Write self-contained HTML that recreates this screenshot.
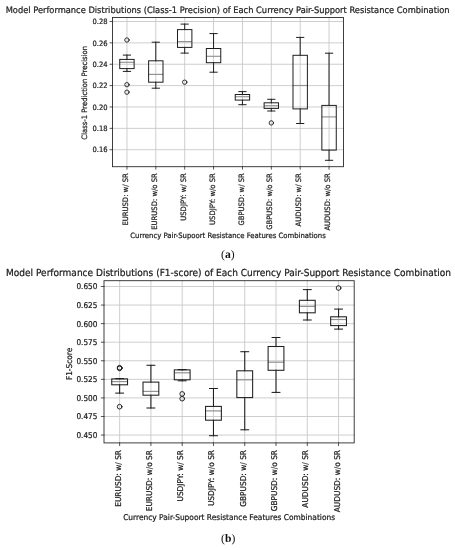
<!DOCTYPE html>
<html lang="en"><head><meta charset="utf-8"><title>Model Performance Distributions</title>
<style>html,body{margin:0;padding:0;background:#fff}svg{display:block}text{stroke:#1c1c1c;stroke-width:0.22px;stroke-linejoin:round}text.cap{stroke:none}</style></head><body>
<svg width="455" height="550" viewBox="0 0 455 550" font-family="'DejaVu Sans', 'Liberation Sans', sans-serif" fill="#1c1c1c" text-rendering="geometricPrecision" stroke-linecap="square">
<rect width="455" height="550" fill="#fff"/>
<line x1="112.5" y1="21.5" x2="343.5" y2="21.5" stroke="#c8c8c8" stroke-width="0.9"/>
<line x1="112.5" y1="42.87" x2="343.5" y2="42.87" stroke="#c8c8c8" stroke-width="0.9"/>
<line x1="112.5" y1="64.24" x2="343.5" y2="64.24" stroke="#c8c8c8" stroke-width="0.9"/>
<line x1="112.5" y1="85.61" x2="343.5" y2="85.61" stroke="#c8c8c8" stroke-width="0.9"/>
<line x1="112.5" y1="106.98" x2="343.5" y2="106.98" stroke="#c8c8c8" stroke-width="0.9"/>
<line x1="112.5" y1="128.35" x2="343.5" y2="128.35" stroke="#c8c8c8" stroke-width="0.9"/>
<line x1="112.5" y1="149.72" x2="343.5" y2="149.72" stroke="#c8c8c8" stroke-width="0.9"/>
<line x1="126.94" y1="17.5" x2="126.94" y2="166.7" stroke="#c8c8c8" stroke-width="0.9"/>
<line x1="155.81" y1="17.5" x2="155.81" y2="166.7" stroke="#c8c8c8" stroke-width="0.9"/>
<line x1="184.69" y1="17.5" x2="184.69" y2="166.7" stroke="#c8c8c8" stroke-width="0.9"/>
<line x1="213.56" y1="17.5" x2="213.56" y2="166.7" stroke="#c8c8c8" stroke-width="0.9"/>
<line x1="242.44" y1="17.5" x2="242.44" y2="166.7" stroke="#c8c8c8" stroke-width="0.9"/>
<line x1="271.31" y1="17.5" x2="271.31" y2="166.7" stroke="#c8c8c8" stroke-width="0.9"/>
<line x1="300.19" y1="17.5" x2="300.19" y2="166.7" stroke="#c8c8c8" stroke-width="0.9"/>
<line x1="329.06" y1="17.5" x2="329.06" y2="166.7" stroke="#c8c8c8" stroke-width="0.9"/>
<line x1="126.94" y1="55.1" x2="126.94" y2="59.4" stroke="#1e1e1e" stroke-width="1.0"/>
<line x1="126.94" y1="68.6" x2="126.94" y2="71.4" stroke="#1e1e1e" stroke-width="1.0"/>
<line x1="123.34" y1="55.1" x2="130.54" y2="55.1" stroke="#1e1e1e" stroke-width="1.0"/>
<line x1="123.34" y1="71.4" x2="130.54" y2="71.4" stroke="#1e1e1e" stroke-width="1.0"/>
<line x1="119.74" y1="62.3" x2="134.14" y2="62.3" stroke="#929292" stroke-width="1.15" stroke-linecap="butt"/>
<rect x="119.74" y="59.4" width="14.4" height="9.199999999999996" fill="none" stroke="#1e1e1e" stroke-width="1.0"/>
<line x1="155.81" y1="42.2" x2="155.81" y2="60.8" stroke="#1e1e1e" stroke-width="1.0"/>
<line x1="155.81" y1="82.2" x2="155.81" y2="88.2" stroke="#1e1e1e" stroke-width="1.0"/>
<line x1="152.21" y1="42.2" x2="159.41" y2="42.2" stroke="#1e1e1e" stroke-width="1.0"/>
<line x1="152.21" y1="88.2" x2="159.41" y2="88.2" stroke="#1e1e1e" stroke-width="1.0"/>
<line x1="148.61" y1="74.4" x2="163.01" y2="74.4" stroke="#929292" stroke-width="1.15" stroke-linecap="butt"/>
<rect x="148.61" y="60.8" width="14.4" height="21.400000000000006" fill="none" stroke="#1e1e1e" stroke-width="1.0"/>
<line x1="184.69" y1="24.1" x2="184.69" y2="29.6" stroke="#1e1e1e" stroke-width="1.0"/>
<line x1="184.69" y1="47.4" x2="184.69" y2="53.1" stroke="#1e1e1e" stroke-width="1.0"/>
<line x1="181.09" y1="24.1" x2="188.29" y2="24.1" stroke="#1e1e1e" stroke-width="1.0"/>
<line x1="181.09" y1="53.1" x2="188.29" y2="53.1" stroke="#1e1e1e" stroke-width="1.0"/>
<line x1="177.49" y1="41.6" x2="191.89" y2="41.6" stroke="#929292" stroke-width="1.15" stroke-linecap="butt"/>
<rect x="177.49" y="29.6" width="14.4" height="17.799999999999997" fill="none" stroke="#1e1e1e" stroke-width="1.0"/>
<line x1="213.56" y1="33.6" x2="213.56" y2="48.5" stroke="#1e1e1e" stroke-width="1.0"/>
<line x1="213.56" y1="62.7" x2="213.56" y2="72.2" stroke="#1e1e1e" stroke-width="1.0"/>
<line x1="209.96" y1="33.6" x2="217.16" y2="33.6" stroke="#1e1e1e" stroke-width="1.0"/>
<line x1="209.96" y1="72.2" x2="217.16" y2="72.2" stroke="#1e1e1e" stroke-width="1.0"/>
<line x1="206.36" y1="56.3" x2="220.76" y2="56.3" stroke="#929292" stroke-width="1.15" stroke-linecap="butt"/>
<rect x="206.36" y="48.5" width="14.4" height="14.200000000000003" fill="none" stroke="#1e1e1e" stroke-width="1.0"/>
<line x1="242.44" y1="91.6" x2="242.44" y2="94.5" stroke="#1e1e1e" stroke-width="1.0"/>
<line x1="242.44" y1="100.1" x2="242.44" y2="104.7" stroke="#1e1e1e" stroke-width="1.0"/>
<line x1="238.84" y1="91.6" x2="246.04" y2="91.6" stroke="#1e1e1e" stroke-width="1.0"/>
<line x1="238.84" y1="104.7" x2="246.04" y2="104.7" stroke="#1e1e1e" stroke-width="1.0"/>
<line x1="235.24" y1="96.7" x2="249.64" y2="96.7" stroke="#929292" stroke-width="1.15" stroke-linecap="butt"/>
<rect x="235.24" y="94.5" width="14.4" height="5.599999999999994" fill="none" stroke="#1e1e1e" stroke-width="1.0"/>
<line x1="271.31" y1="99.3" x2="271.31" y2="102.8" stroke="#1e1e1e" stroke-width="1.0"/>
<line x1="271.31" y1="108.4" x2="271.31" y2="111.0" stroke="#1e1e1e" stroke-width="1.0"/>
<line x1="267.71" y1="99.3" x2="274.91" y2="99.3" stroke="#1e1e1e" stroke-width="1.0"/>
<line x1="267.71" y1="111.0" x2="274.91" y2="111.0" stroke="#1e1e1e" stroke-width="1.0"/>
<line x1="264.11" y1="105.7" x2="278.51" y2="105.7" stroke="#929292" stroke-width="1.15" stroke-linecap="butt"/>
<rect x="264.11" y="102.8" width="14.4" height="5.6000000000000085" fill="none" stroke="#1e1e1e" stroke-width="1.0"/>
<line x1="300.19" y1="37.4" x2="300.19" y2="55.3" stroke="#1e1e1e" stroke-width="1.0"/>
<line x1="300.19" y1="108.9" x2="300.19" y2="123.5" stroke="#1e1e1e" stroke-width="1.0"/>
<line x1="296.59" y1="37.4" x2="303.79" y2="37.4" stroke="#1e1e1e" stroke-width="1.0"/>
<line x1="296.59" y1="123.5" x2="303.79" y2="123.5" stroke="#1e1e1e" stroke-width="1.0"/>
<line x1="292.99" y1="85.5" x2="307.39" y2="85.5" stroke="#929292" stroke-width="1.15" stroke-linecap="butt"/>
<rect x="292.99" y="55.3" width="14.4" height="53.60000000000001" fill="none" stroke="#1e1e1e" stroke-width="1.0"/>
<line x1="329.06" y1="53.2" x2="329.06" y2="105.4" stroke="#1e1e1e" stroke-width="1.0"/>
<line x1="329.06" y1="150.1" x2="329.06" y2="160.3" stroke="#1e1e1e" stroke-width="1.0"/>
<line x1="325.46" y1="53.2" x2="332.66" y2="53.2" stroke="#1e1e1e" stroke-width="1.0"/>
<line x1="325.46" y1="160.3" x2="332.66" y2="160.3" stroke="#1e1e1e" stroke-width="1.0"/>
<line x1="321.86" y1="116.9" x2="336.26" y2="116.9" stroke="#929292" stroke-width="1.15" stroke-linecap="butt"/>
<rect x="321.86" y="105.4" width="14.4" height="44.69999999999999" fill="none" stroke="#1e1e1e" stroke-width="1.0"/>
<circle cx="126.94" cy="40.0" r="2.2" fill="none" stroke="#1e1e1e" stroke-width="0.90"/>
<circle cx="126.94" cy="84.7" r="2.2" fill="none" stroke="#1e1e1e" stroke-width="0.90"/>
<circle cx="126.94" cy="92.2" r="2.2" fill="none" stroke="#1e1e1e" stroke-width="0.90"/>
<circle cx="184.69" cy="82.2" r="2.2" fill="none" stroke="#1e1e1e" stroke-width="0.90"/>
<circle cx="271.31" cy="122.9" r="2.2" fill="none" stroke="#1e1e1e" stroke-width="0.90"/>
<line x1="110.1" y1="21.5" x2="112.5" y2="21.5" stroke="#2a2a2a" stroke-width="0.8"/>
<line x1="110.1" y1="42.87" x2="112.5" y2="42.87" stroke="#2a2a2a" stroke-width="0.8"/>
<line x1="110.1" y1="64.24" x2="112.5" y2="64.24" stroke="#2a2a2a" stroke-width="0.8"/>
<line x1="110.1" y1="85.61" x2="112.5" y2="85.61" stroke="#2a2a2a" stroke-width="0.8"/>
<line x1="110.1" y1="106.98" x2="112.5" y2="106.98" stroke="#2a2a2a" stroke-width="0.8"/>
<line x1="110.1" y1="128.35" x2="112.5" y2="128.35" stroke="#2a2a2a" stroke-width="0.8"/>
<line x1="110.1" y1="149.72" x2="112.5" y2="149.72" stroke="#2a2a2a" stroke-width="0.8"/>
<line x1="126.94" y1="166.7" x2="126.94" y2="169.1" stroke="#2a2a2a" stroke-width="0.8"/>
<line x1="155.81" y1="166.7" x2="155.81" y2="169.1" stroke="#2a2a2a" stroke-width="0.8"/>
<line x1="184.69" y1="166.7" x2="184.69" y2="169.1" stroke="#2a2a2a" stroke-width="0.8"/>
<line x1="213.56" y1="166.7" x2="213.56" y2="169.1" stroke="#2a2a2a" stroke-width="0.8"/>
<line x1="242.44" y1="166.7" x2="242.44" y2="169.1" stroke="#2a2a2a" stroke-width="0.8"/>
<line x1="271.31" y1="166.7" x2="271.31" y2="169.1" stroke="#2a2a2a" stroke-width="0.8"/>
<line x1="300.19" y1="166.7" x2="300.19" y2="169.1" stroke="#2a2a2a" stroke-width="0.8"/>
<line x1="329.06" y1="166.7" x2="329.06" y2="169.1" stroke="#2a2a2a" stroke-width="0.8"/>
<rect x="112.5" y="17.5" width="231.0" height="149.2" fill="none" stroke="#2a2a2a" stroke-width="0.9"/>
<text transform="translate(107.6,24.18) scale(0.985,1.07)" font-size="6.88" text-anchor="end">0.28</text>
<text transform="translate(107.6,45.55) scale(0.985,1.07)" font-size="6.88" text-anchor="end">0.26</text>
<text transform="translate(107.6,66.92) scale(0.985,1.07)" font-size="6.88" text-anchor="end">0.24</text>
<text transform="translate(107.6,88.29) scale(0.985,1.07)" font-size="6.88" text-anchor="end">0.22</text>
<text transform="translate(107.6,109.66) scale(0.985,1.07)" font-size="6.88" text-anchor="end">0.20</text>
<text transform="translate(107.6,131.03) scale(0.985,1.07)" font-size="6.88" text-anchor="end">0.18</text>
<text transform="translate(107.6,152.40) scale(0.985,1.07)" font-size="6.88" text-anchor="end">0.16</text>
<text transform="translate(128.04,173.2) rotate(-90) scale(0.995,1.08)" font-size="6.88" text-anchor="end">EURUSD: w/ SR</text>
<text transform="translate(156.91,173.2) rotate(-90) scale(0.995,1.08)" font-size="6.88" text-anchor="end">EURUSD: w/o SR</text>
<text transform="translate(185.79,173.2) rotate(-90) scale(0.995,1.08)" font-size="6.88" text-anchor="end">USDJPY: w/ SR</text>
<text transform="translate(214.66,173.2) rotate(-90) scale(0.995,1.08)" font-size="6.88" text-anchor="end">USDJPY: w/o SR</text>
<text transform="translate(243.54,173.2) rotate(-90) scale(0.995,1.08)" font-size="6.88" text-anchor="end">GBPUSD: w/ SR</text>
<text transform="translate(272.41,173.2) rotate(-90) scale(0.995,1.08)" font-size="6.88" text-anchor="end">GBPUSD: w/o SR</text>
<text transform="translate(301.29,173.2) rotate(-90) scale(0.995,1.08)" font-size="6.88" text-anchor="end">AUDUSD: w/ SR</text>
<text transform="translate(330.16,173.2) rotate(-90) scale(0.995,1.08)" font-size="6.88" text-anchor="end">AUDUSD: w/o SR</text>
<text transform="translate(227.6,13.0) scale(1,1.07)" font-size="8.31" text-anchor="middle">Model Performance Distributions (Class-1 Precision) of Each Currency Pair-Support Resistance Combination</text>
<text transform="translate(228.0,238.2) scale(1,1.07)" font-size="6.88" text-anchor="middle">Currency Pair-Supoort Resistance Features Combinations</text>
<text transform="translate(86.7,92.80) rotate(-90) scale(0.995,1.08)" font-size="6.88" text-anchor="middle">Class-1 Prediction Precision</text>
<line x1="104.0" y1="286.5" x2="354.2" y2="286.5" stroke="#c8c8c8" stroke-width="0.9"/>
<line x1="104.0" y1="305.07" x2="354.2" y2="305.07" stroke="#c8c8c8" stroke-width="0.9"/>
<line x1="104.0" y1="323.64" x2="354.2" y2="323.64" stroke="#c8c8c8" stroke-width="0.9"/>
<line x1="104.0" y1="342.21" x2="354.2" y2="342.21" stroke="#c8c8c8" stroke-width="0.9"/>
<line x1="104.0" y1="360.78" x2="354.2" y2="360.78" stroke="#c8c8c8" stroke-width="0.9"/>
<line x1="104.0" y1="379.35" x2="354.2" y2="379.35" stroke="#c8c8c8" stroke-width="0.9"/>
<line x1="104.0" y1="397.92" x2="354.2" y2="397.92" stroke="#c8c8c8" stroke-width="0.9"/>
<line x1="104.0" y1="416.49" x2="354.2" y2="416.49" stroke="#c8c8c8" stroke-width="0.9"/>
<line x1="104.0" y1="435.06" x2="354.2" y2="435.06" stroke="#c8c8c8" stroke-width="0.9"/>
<line x1="119.64" y1="280.7" x2="119.64" y2="442.9" stroke="#c8c8c8" stroke-width="0.9"/>
<line x1="150.91" y1="280.7" x2="150.91" y2="442.9" stroke="#c8c8c8" stroke-width="0.9"/>
<line x1="182.19" y1="280.7" x2="182.19" y2="442.9" stroke="#c8c8c8" stroke-width="0.9"/>
<line x1="213.46" y1="280.7" x2="213.46" y2="442.9" stroke="#c8c8c8" stroke-width="0.9"/>
<line x1="244.74" y1="280.7" x2="244.74" y2="442.9" stroke="#c8c8c8" stroke-width="0.9"/>
<line x1="276.01" y1="280.7" x2="276.01" y2="442.9" stroke="#c8c8c8" stroke-width="0.9"/>
<line x1="307.29" y1="280.7" x2="307.29" y2="442.9" stroke="#c8c8c8" stroke-width="0.9"/>
<line x1="338.56" y1="280.7" x2="338.56" y2="442.9" stroke="#c8c8c8" stroke-width="0.9"/>
<line x1="119.64" y1="378.6" x2="119.64" y2="378.9" stroke="#1e1e1e" stroke-width="1.05"/>
<line x1="119.64" y1="384.8" x2="119.64" y2="393.1" stroke="#1e1e1e" stroke-width="1.05"/>
<line x1="115.74" y1="378.6" x2="123.54" y2="378.6" stroke="#1e1e1e" stroke-width="1.05"/>
<line x1="115.74" y1="393.1" x2="123.54" y2="393.1" stroke="#1e1e1e" stroke-width="1.05"/>
<line x1="111.74" y1="381.6" x2="127.54" y2="381.6" stroke="#929292" stroke-width="1.21" stroke-linecap="butt"/>
<rect x="111.74" y="378.9" width="15.8" height="5.900000000000034" fill="none" stroke="#1e1e1e" stroke-width="1.05"/>
<line x1="150.91" y1="365.3" x2="150.91" y2="382.1" stroke="#1e1e1e" stroke-width="1.05"/>
<line x1="150.91" y1="395.2" x2="150.91" y2="408.0" stroke="#1e1e1e" stroke-width="1.05"/>
<line x1="147.01" y1="365.3" x2="154.81" y2="365.3" stroke="#1e1e1e" stroke-width="1.05"/>
<line x1="147.01" y1="408.0" x2="154.81" y2="408.0" stroke="#1e1e1e" stroke-width="1.05"/>
<line x1="143.01" y1="391.4" x2="158.81" y2="391.4" stroke="#929292" stroke-width="1.21" stroke-linecap="butt"/>
<rect x="143.01" y="382.1" width="15.8" height="13.099999999999966" fill="none" stroke="#1e1e1e" stroke-width="1.05"/>
<line x1="182.19" y1="369.6" x2="182.19" y2="369.9" stroke="#1e1e1e" stroke-width="1.05"/>
<line x1="182.19" y1="379.8" x2="182.19" y2="380.8" stroke="#1e1e1e" stroke-width="1.05"/>
<line x1="178.29" y1="369.6" x2="186.09" y2="369.6" stroke="#1e1e1e" stroke-width="1.05"/>
<line x1="178.29" y1="380.8" x2="186.09" y2="380.8" stroke="#1e1e1e" stroke-width="1.05"/>
<line x1="174.29" y1="372.8" x2="190.09" y2="372.8" stroke="#929292" stroke-width="1.21" stroke-linecap="butt"/>
<rect x="174.29" y="369.9" width="15.8" height="9.900000000000034" fill="none" stroke="#1e1e1e" stroke-width="1.05"/>
<line x1="213.46" y1="388.5" x2="213.46" y2="406.4" stroke="#1e1e1e" stroke-width="1.05"/>
<line x1="213.46" y1="420.2" x2="213.46" y2="435.7" stroke="#1e1e1e" stroke-width="1.05"/>
<line x1="209.56" y1="388.5" x2="217.36" y2="388.5" stroke="#1e1e1e" stroke-width="1.05"/>
<line x1="209.56" y1="435.7" x2="217.36" y2="435.7" stroke="#1e1e1e" stroke-width="1.05"/>
<line x1="205.56" y1="410.9" x2="221.36" y2="410.9" stroke="#929292" stroke-width="1.21" stroke-linecap="butt"/>
<rect x="205.56" y="406.4" width="15.8" height="13.800000000000011" fill="none" stroke="#1e1e1e" stroke-width="1.05"/>
<line x1="244.74" y1="351.7" x2="244.74" y2="370.8" stroke="#1e1e1e" stroke-width="1.05"/>
<line x1="244.74" y1="397.6" x2="244.74" y2="429.8" stroke="#1e1e1e" stroke-width="1.05"/>
<line x1="240.84" y1="351.7" x2="248.64000000000001" y2="351.7" stroke="#1e1e1e" stroke-width="1.05"/>
<line x1="240.84" y1="429.8" x2="248.64000000000001" y2="429.8" stroke="#1e1e1e" stroke-width="1.05"/>
<line x1="236.84" y1="379.8" x2="252.64000000000001" y2="379.8" stroke="#929292" stroke-width="1.21" stroke-linecap="butt"/>
<rect x="236.84" y="370.8" width="15.8" height="26.80000000000001" fill="none" stroke="#1e1e1e" stroke-width="1.05"/>
<line x1="276.01" y1="337.5" x2="276.01" y2="346.5" stroke="#1e1e1e" stroke-width="1.05"/>
<line x1="276.01" y1="370.3" x2="276.01" y2="392.4" stroke="#1e1e1e" stroke-width="1.05"/>
<line x1="272.11" y1="337.5" x2="279.90999999999997" y2="337.5" stroke="#1e1e1e" stroke-width="1.05"/>
<line x1="272.11" y1="392.4" x2="279.90999999999997" y2="392.4" stroke="#1e1e1e" stroke-width="1.05"/>
<line x1="268.11" y1="362.2" x2="283.90999999999997" y2="362.2" stroke="#929292" stroke-width="1.21" stroke-linecap="butt"/>
<rect x="268.11" y="346.5" width="15.8" height="23.80000000000001" fill="none" stroke="#1e1e1e" stroke-width="1.05"/>
<line x1="307.29" y1="289.6" x2="307.29" y2="300.3" stroke="#1e1e1e" stroke-width="1.05"/>
<line x1="307.29" y1="312.8" x2="307.29" y2="320.0" stroke="#1e1e1e" stroke-width="1.05"/>
<line x1="303.39000000000004" y1="289.6" x2="311.19" y2="289.6" stroke="#1e1e1e" stroke-width="1.05"/>
<line x1="303.39000000000004" y1="320.0" x2="311.19" y2="320.0" stroke="#1e1e1e" stroke-width="1.05"/>
<line x1="299.39000000000004" y1="306.4" x2="315.19" y2="306.4" stroke="#929292" stroke-width="1.21" stroke-linecap="butt"/>
<rect x="299.39000000000004" y="300.3" width="15.8" height="12.5" fill="none" stroke="#1e1e1e" stroke-width="1.05"/>
<line x1="338.56" y1="309.1" x2="338.56" y2="316.8" stroke="#1e1e1e" stroke-width="1.05"/>
<line x1="338.56" y1="325.6" x2="338.56" y2="329.1" stroke="#1e1e1e" stroke-width="1.05"/>
<line x1="334.66" y1="309.1" x2="342.46" y2="309.1" stroke="#1e1e1e" stroke-width="1.05"/>
<line x1="334.66" y1="329.1" x2="342.46" y2="329.1" stroke="#1e1e1e" stroke-width="1.05"/>
<line x1="330.66" y1="319.5" x2="346.46" y2="319.5" stroke="#929292" stroke-width="1.21" stroke-linecap="butt"/>
<rect x="330.66" y="316.8" width="15.8" height="8.800000000000011" fill="none" stroke="#1e1e1e" stroke-width="1.05"/>
<circle cx="119.64" cy="367.7" r="2.35" fill="none" stroke="#1e1e1e" stroke-width="0.95"/>
<circle cx="119.64" cy="368.4" r="2.35" fill="none" stroke="#1e1e1e" stroke-width="0.95"/>
<circle cx="119.64" cy="406.7" r="2.35" fill="none" stroke="#1e1e1e" stroke-width="0.95"/>
<circle cx="182.19" cy="393.9" r="2.35" fill="none" stroke="#1e1e1e" stroke-width="0.95"/>
<circle cx="182.19" cy="398.7" r="2.35" fill="none" stroke="#1e1e1e" stroke-width="0.95"/>
<circle cx="338.56" cy="288.0" r="2.35" fill="none" stroke="#1e1e1e" stroke-width="0.95"/>
<line x1="101.4" y1="286.5" x2="104.0" y2="286.5" stroke="#2a2a2a" stroke-width="0.8"/>
<line x1="101.4" y1="305.07" x2="104.0" y2="305.07" stroke="#2a2a2a" stroke-width="0.8"/>
<line x1="101.4" y1="323.64" x2="104.0" y2="323.64" stroke="#2a2a2a" stroke-width="0.8"/>
<line x1="101.4" y1="342.21" x2="104.0" y2="342.21" stroke="#2a2a2a" stroke-width="0.8"/>
<line x1="101.4" y1="360.78" x2="104.0" y2="360.78" stroke="#2a2a2a" stroke-width="0.8"/>
<line x1="101.4" y1="379.35" x2="104.0" y2="379.35" stroke="#2a2a2a" stroke-width="0.8"/>
<line x1="101.4" y1="397.92" x2="104.0" y2="397.92" stroke="#2a2a2a" stroke-width="0.8"/>
<line x1="101.4" y1="416.49" x2="104.0" y2="416.49" stroke="#2a2a2a" stroke-width="0.8"/>
<line x1="101.4" y1="435.06" x2="104.0" y2="435.06" stroke="#2a2a2a" stroke-width="0.8"/>
<line x1="119.64" y1="442.9" x2="119.64" y2="445.5" stroke="#2a2a2a" stroke-width="0.8"/>
<line x1="150.91" y1="442.9" x2="150.91" y2="445.5" stroke="#2a2a2a" stroke-width="0.8"/>
<line x1="182.19" y1="442.9" x2="182.19" y2="445.5" stroke="#2a2a2a" stroke-width="0.8"/>
<line x1="213.46" y1="442.9" x2="213.46" y2="445.5" stroke="#2a2a2a" stroke-width="0.8"/>
<line x1="244.74" y1="442.9" x2="244.74" y2="445.5" stroke="#2a2a2a" stroke-width="0.8"/>
<line x1="276.01" y1="442.9" x2="276.01" y2="445.5" stroke="#2a2a2a" stroke-width="0.8"/>
<line x1="307.29" y1="442.9" x2="307.29" y2="445.5" stroke="#2a2a2a" stroke-width="0.8"/>
<line x1="338.56" y1="442.9" x2="338.56" y2="445.5" stroke="#2a2a2a" stroke-width="0.8"/>
<rect x="104.0" y="280.7" width="250.2" height="162.2" fill="none" stroke="#2a2a2a" stroke-width="0.9"/>
<text transform="translate(97.4,289.41) scale(0.985,1.07)" font-size="7.46" text-anchor="end">0.650</text>
<text transform="translate(97.4,307.98) scale(0.985,1.07)" font-size="7.46" text-anchor="end">0.625</text>
<text transform="translate(97.4,326.55) scale(0.985,1.07)" font-size="7.46" text-anchor="end">0.600</text>
<text transform="translate(97.4,345.12) scale(0.985,1.07)" font-size="7.46" text-anchor="end">0.575</text>
<text transform="translate(97.4,363.69) scale(0.985,1.07)" font-size="7.46" text-anchor="end">0.550</text>
<text transform="translate(97.4,382.26) scale(0.985,1.07)" font-size="7.46" text-anchor="end">0.525</text>
<text transform="translate(97.4,400.83) scale(0.985,1.07)" font-size="7.46" text-anchor="end">0.500</text>
<text transform="translate(97.4,419.40) scale(0.985,1.07)" font-size="7.46" text-anchor="end">0.475</text>
<text transform="translate(97.4,437.97) scale(0.985,1.07)" font-size="7.46" text-anchor="end">0.450</text>
<text transform="translate(120.59,450.0) rotate(-90) scale(0.995,1.08)" font-size="7.46" text-anchor="end">EURUSD: w/ SR</text>
<text transform="translate(151.86,450.0) rotate(-90) scale(0.995,1.08)" font-size="7.46" text-anchor="end">EURUSD: w/o SR</text>
<text transform="translate(183.14,450.0) rotate(-90) scale(0.995,1.08)" font-size="7.46" text-anchor="end">USDJPY: w/ SR</text>
<text transform="translate(214.41,450.0) rotate(-90) scale(0.995,1.08)" font-size="7.46" text-anchor="end">USDJPY: w/o SR</text>
<text transform="translate(245.69,450.0) rotate(-90) scale(0.995,1.08)" font-size="7.46" text-anchor="end">GBPUSD: w/ SR</text>
<text transform="translate(276.96,450.0) rotate(-90) scale(0.995,1.08)" font-size="7.46" text-anchor="end">GBPUSD: w/o SR</text>
<text transform="translate(308.24,450.0) rotate(-90) scale(0.995,1.08)" font-size="7.46" text-anchor="end">AUDUSD: w/ SR</text>
<text transform="translate(339.51,450.0) rotate(-90) scale(0.995,1.08)" font-size="7.46" text-anchor="end">AUDUSD: w/o SR</text>
<text transform="translate(228.5,275.6) scale(1,1.07)" font-size="9.02" text-anchor="middle">Model Performance Distributions (F1-score) of Each Currency Pair-Support Resistance Combination</text>
<text transform="translate(229.1,520.0) scale(1,1.07)" font-size="7.46" text-anchor="middle">Currency Pair-Supoort Resistance Features Combinations</text>
<text transform="translate(72.0,363.90) rotate(-90) scale(0.995,1.08)" font-size="7.46" text-anchor="middle">F1-Score</text>
<text x="227.8" y="257.9" font-family="'Liberation Serif', 'DejaVu Serif', serif" font-size="11.6" text-anchor="middle" fill="#111" class="cap">(<tspan font-weight="bold">a</tspan>)</text>
<text x="228.2" y="542.1" font-family="'Liberation Serif', 'DejaVu Serif', serif" font-size="11.6" text-anchor="middle" fill="#111" class="cap">(<tspan font-weight="bold">b</tspan>)</text>
</svg></body></html>
